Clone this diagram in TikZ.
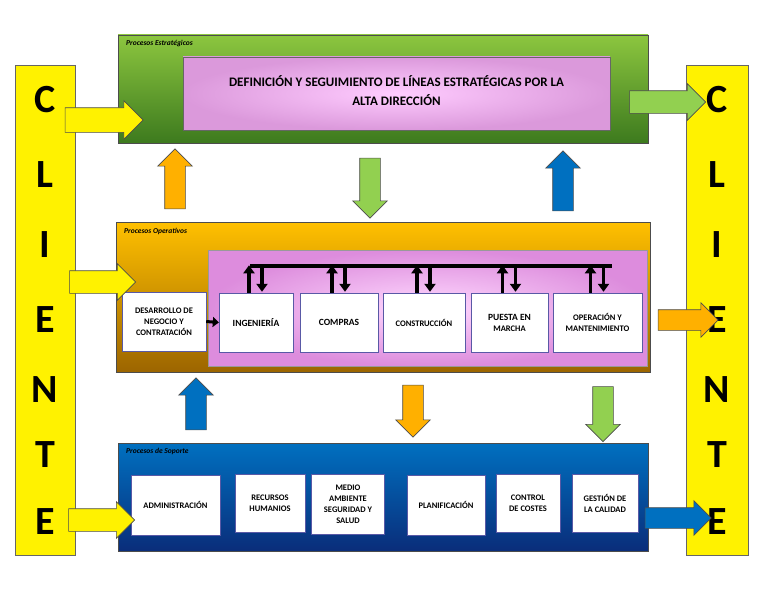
\documentclass[tikz,border=0pt]{standalone}
\usepackage{fontspec}
\setmainfont{Carlito}
\usetikzlibrary{shapes.arrows,arrows.meta}
\definecolor{gtop}{HTML}{8CC63F}\definecolor{gbot}{HTML}{3D7A1E}
\definecolor{otop}{HTML}{FFC000}\definecolor{obot}{HTML}{9C6500}
\definecolor{btop}{HTML}{0070C0}\definecolor{bbot}{HTML}{0A2D7A}
\definecolor{garr}{HTML}{92D050}\definecolor{oarr}{HTML}{FFB000}\definecolor{barc}{HTML}{0070C0}
\begin{document}
\begin{tikzpicture}[x=1pt,y=-1pt,
  box/.style={draw=gray!70!blue,fill=white,align=center,font=\bfseries\fontsize{8.5}{11}\selectfont,inner sep=1pt},
  barr/.style={single arrow,draw=black!70,line width=0.6pt,single arrow head extend=7pt,inner sep=#1},
  barr/.default=10pt,
  letter/.style={font=\bfseries\fontsize{40}{40}\selectfont},
  ttl/.style={font=\bfseries\itshape\fontsize{7.5}{8}\selectfont,anchor=north west,inner sep=0pt},
  bus/.style={line width=3.2pt,-{Triangle[length=8pt,width=11pt]}}]
\useasboundingbox (0,0) rectangle (768,594);
% CLIENTE bars
\draw[fill=yellow,draw=black!60] (15,65) rectangle (75,555);
\draw[fill=yellow,draw=black!60] (686,65) rectangle (748,555);
\foreach \l/\y [count=\i] in {C/100,L/175,I/245,E/320,N/390,T/455,E/522}{
  \node[letter] (cl\i) at (45,\y) {\l};
  \node[letter] (cr\i) at (717,\y) {\l};}
% Strategic
\shade[top color=gtop,bottom color=gbot] (118,35) rectangle (648,143);
\draw[black!70] (118,35) rectangle (648,143);
\node[ttl] (tS) at (126,40) {Procesos Estratégicos};
\shade[inner color=white!80!magenta,outer color=magenta!30!violet!40] (183,57) rectangle (610,130);
\draw[black!60] (183,57) rectangle (610,130);
\node[font=\bfseries\fontsize{13}{19}\selectfont,align=center] (def) at (396.5,91) {DEFINICIÓN Y SEGUIMIENTO DE LÍNEAS ESTRATÉGICAS POR LA\\ALTA DIRECCIÓN};
% Operative
\shade[top color=otop,bottom color=obot] (116,222) rectangle (650,372);
\draw[black!70] (116,222) rectangle (650,372);
\node[ttl] (tO) at (124,228) {Procesos Operativos};
\shade[inner color=white!85!magenta,outer color=magenta!40!violet!45] (208,250) rectangle (647,366);
\draw[black!40] (208,250) rectangle (647,366);
\node[box,minimum width=84pt,minimum height=59pt] (des) at (164,321.5) {DESARROLLO DE\\NEGOCIO Y\\CONTRATACIÓN};
\node[box,minimum width=74pt,minimum height=59pt] (ing) at (256,322.5) {\fontsize{9.5}{11}\selectfont INGENIERÍA};
\node[box,minimum width=78pt,minimum height=59pt] (com) at (339,322.5) {\fontsize{9.5}{11}\selectfont COMPRAS};
\node[box,minimum width=82pt,minimum height=59pt] (con) at (424,322.5) {CONSTRUCCIÓN};
\node[box,minimum width=77pt,minimum height=59pt] (pue) at (509.5,322.5) {\fontsize{9.5}{13}\selectfont PUESTA EN\\MARCHA};
\node[box,minimum width=89pt,minimum height=59pt] (ope) at (597.5,322.5) {OPERACIÓN Y\\MANTENIMIENTO};
\draw[line width=3pt,-{Triangle[length=6pt,width=10pt]}] (des.east) -- (ing.west);
\coordinate (bl) at (250,266); \coordinate (br) at (612,266);
\draw[line width=3.2pt] (bl) -- (br);
\foreach \n in {ing,com,con,pue,ope}{
  \draw[bus] (\n.north)++(-7,0) -- ++(0,-27.5);
  \draw[bus] (\n.north)++(6,-28.5) -- ++(0,27.5);}
% Support
\shade[top color=btop,bottom color=bbot] (118,443) rectangle (648,551);
\draw[black!70] (118,443) rectangle (648,551);
\node[ttl] (tP) at (126,448) {Procesos de Soporte};
\node[box,minimum width=89pt,minimum height=60pt] (adm) at (175.5,505) {ADMINISTRACIÓN};
\node[box,minimum width=70pt,minimum height=58pt] (rrhh) at (270,503) {RECURSOS\\HUMANIOS};
\node[box,minimum width=73pt,minimum height=60pt] (med) at (348,504) {MEDIO\\AMBIENTE\\SEGURIDAD Y\\SALUD};
\node[box,minimum width=78pt,minimum height=60pt] (pla) at (446,505) {PLANIFICACIÓN};
\node[box,minimum width=64pt,minimum height=58pt] (ctl) at (528,503) {CONTROL\\DE COSTES};
\node[box,minimum width=66pt,minimum height=58pt] (ges) at (605,503) {GESTIÓN DE\\LA CALIDAD};
% Block arrows horizontal
\node[barr=12pt,fill=yellow,minimum height=78pt] (a1) at (98,120) {};
\node[barr=11pt,fill=yellow,minimum height=66pt] (a2) at (97,282) {};
\node[barr=11pt,fill=yellow,minimum height=66pt] (a3) at (96,520) {};
\node[barr=11pt,fill=garr,minimum height=76pt] (a4) at (662,102) {};
\node[barr=10pt,fill=oarr,minimum height=60pt] (a5) at (683,320) {};
\node[barr=10pt,fill=barc,minimum height=66pt] (a6) at (673,518) {};
% vertical
\node[barr=10pt,fill=oarr,minimum height=60pt,shape border rotate=90] (v1) at (175,184) {};
\node[barr=10pt,fill=garr,minimum height=60pt,shape border rotate=270] (v2) at (370,183) {};
\node[barr=10pt,fill=barc,minimum height=60pt,shape border rotate=90] (v3) at (563,186) {};
\node[barr=10pt,fill=barc,minimum height=52pt,shape border rotate=90] (v4) at (196,409) {};
\node[barr=10pt,fill=oarr,minimum height=52pt,shape border rotate=270] (v5) at (413,406) {};
\node[barr=10pt,fill=garr,minimum height=55pt,shape border rotate=270] (v6) at (603,409) {};
\end{tikzpicture}
\end{document}
